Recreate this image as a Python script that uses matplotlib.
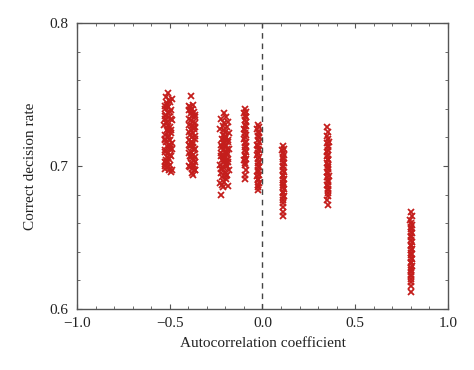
import matplotlib
matplotlib.use("Agg")
import matplotlib.pyplot as plt
from matplotlib.ticker import MultipleLocator

# ---- data ----
c1_x = [-0.512, -0.520, -0.505, -0.498, -0.515, -0.508, -0.525, -0.500, -0.510, -0.518,
        -0.503, -0.495, -0.513, -0.522, -0.507, -0.500, -0.516, -0.509, -0.526, -0.502,
        -0.511, -0.497, -0.519, -0.506, -0.514, -0.501, -0.523, -0.508, -0.496, -0.517,
        -0.504, -0.512, -0.520, -0.499, -0.510, -0.524, -0.506, -0.493, -0.515, -0.508,
        -0.501, -0.519,
        -0.490, -0.528, -0.492, -0.527, -0.489, -0.529, -0.491, -0.526, -0.490, -0.528,
        -0.492, -0.527, -0.489, -0.526, -0.491, -0.528, -0.490, -0.527]
c1_y = [0.751, 0.748, 0.746, 0.745, 0.743, 0.741, 0.740, 0.738, 0.737, 0.736,
        0.734, 0.733, 0.731, 0.730, 0.728, 0.727, 0.725, 0.724, 0.722, 0.721,
        0.720, 0.718, 0.717, 0.715, 0.714, 0.712, 0.711, 0.709, 0.708, 0.706,
        0.705, 0.703, 0.702, 0.701, 0.699, 0.698, 0.697, 0.696, 0.744, 0.726,
        0.713, 0.704,
        0.747, 0.742, 0.739, 0.735, 0.732, 0.729, 0.723, 0.719, 0.716, 0.710,
        0.707, 0.700, 0.697, 0.733, 0.725, 0.718, 0.712, 0.703]

c2_x = [-0.385, -0.375, -0.392, -0.380, -0.370, -0.388, -0.378, -0.366, -0.384, -0.373,
        -0.395, -0.381, -0.369, -0.387, -0.376, -0.391, -0.379, -0.364, -0.383, -0.372,
        -0.389, -0.377, -0.368, -0.386, -0.374, -0.393, -0.380, -0.367, -0.384, -0.371,
        -0.390, -0.378, -0.365, -0.382, -0.375, -0.388, -0.370, -0.379, -0.386, -0.373,
        -0.396, -0.363, -0.394, -0.362, -0.397, -0.364, -0.395, -0.363, -0.396, -0.362,
        -0.394, -0.364, -0.395, -0.363, -0.396, -0.362]
c2_y = [0.749, 0.743, 0.741, 0.740, 0.738, 0.737, 0.735, 0.734, 0.732, 0.731,
        0.729, 0.728, 0.726, 0.725, 0.723, 0.722, 0.720, 0.719, 0.717, 0.716,
        0.714, 0.713, 0.711, 0.710, 0.708, 0.707, 0.705, 0.704, 0.702, 0.701,
        0.699, 0.698, 0.697, 0.695, 0.694, 0.739, 0.727, 0.715, 0.706, 0.700,
        0.742, 0.736, 0.733, 0.730, 0.724, 0.721, 0.718, 0.712, 0.709, 0.703,
        0.700, 0.697, 0.739, 0.727, 0.715, 0.706]

c3_x = [-0.210, -0.198, -0.222, -0.186, -0.205, -0.215, -0.192, -0.228, -0.200, -0.182,
        -0.212, -0.195, -0.220, -0.188, -0.207, -0.226, -0.197, -0.180, -0.214, -0.203,
        -0.190, -0.224, -0.209, -0.185, -0.218, -0.199, -0.230, -0.193, -0.211, -0.178,
        -0.204, -0.221, -0.189, -0.216, -0.196, -0.208, -0.227, -0.184, -0.213, -0.201,
        -0.219, -0.191, -0.206, -0.225, -0.187, -0.210, -0.198, -0.217, -0.194, -0.225,
        -0.202, -0.214, -0.190, -0.223, -0.207, -0.196, -0.218, -0.185, -0.211, -0.200]
c3_y = [0.737, 0.734, 0.733, 0.731, 0.730, 0.728, 0.727, 0.726, 0.724, 0.723,
        0.722, 0.720, 0.719, 0.718, 0.716, 0.715, 0.714, 0.712, 0.711, 0.710,
        0.709, 0.707, 0.706, 0.705, 0.704, 0.702, 0.701, 0.700, 0.699, 0.697,
        0.696, 0.695, 0.694, 0.692, 0.691, 0.689, 0.688, 0.686, 0.685, 0.721,
        0.713, 0.708, 0.703, 0.698, 0.717, 0.725, 0.693, 0.687, 0.710, 0.680,
        0.719, 0.716, 0.712, 0.709, 0.705, 0.701, 0.698, 0.703, 0.707, 0.714]

c4_x = [-0.095, -0.090, -0.098, -0.093, -0.088, -0.096, -0.091, -0.094, -0.089, -0.097,
        -0.092, -0.095, -0.090, -0.093, -0.097, -0.089, -0.094, -0.091, -0.096, -0.092,
        -0.088, -0.095, -0.093, -0.090, -0.097, -0.092, -0.094, -0.091, -0.093, -0.092]
c4_y = [0.740, 0.738, 0.737, 0.735, 0.734, 0.732, 0.731, 0.729, 0.728, 0.726,
        0.725, 0.723, 0.722, 0.720, 0.719, 0.717, 0.716, 0.714, 0.713, 0.711,
        0.710, 0.708, 0.707, 0.705, 0.704, 0.702, 0.701, 0.697, 0.694, 0.691]

c5_x = [-0.025, -0.020, -0.028, -0.023, -0.018, -0.026, -0.021, -0.024, -0.019, -0.027,
        -0.022, -0.025, -0.020, -0.023, -0.027, -0.019, -0.024, -0.021, -0.026, -0.022,
        -0.018, -0.025, -0.023, -0.020, -0.027, -0.022, -0.024, -0.021, -0.023, -0.022,
        -0.025]
c5_y = [0.729, 0.727, 0.726, 0.724, 0.723, 0.721, 0.720, 0.718, 0.717, 0.715,
        0.714, 0.712, 0.711, 0.709, 0.708, 0.706, 0.705, 0.703, 0.702, 0.700,
        0.699, 0.697, 0.696, 0.694, 0.693, 0.691, 0.690, 0.688, 0.687, 0.685,
        0.683]

c6_x = [0.110, 0.114, 0.107, 0.112, 0.116, 0.109, 0.113, 0.111, 0.115, 0.108,
        0.112, 0.110, 0.114, 0.111, 0.108, 0.115, 0.111, 0.113, 0.109, 0.112,
        0.116, 0.110, 0.112, 0.114, 0.108, 0.112, 0.111, 0.111, 0.112, 0.111]
c6_y = [0.714, 0.712, 0.711, 0.709, 0.708, 0.706, 0.705, 0.703, 0.702, 0.700,
        0.699, 0.697, 0.696, 0.694, 0.693, 0.691, 0.690, 0.688, 0.687, 0.685,
        0.684, 0.682, 0.681, 0.679, 0.678, 0.676, 0.674, 0.671, 0.668, 0.665]

c7_x = [0.350, 0.354, 0.347, 0.352, 0.356, 0.349, 0.353, 0.351, 0.355, 0.348,
        0.352, 0.350, 0.354, 0.351, 0.348, 0.355, 0.351, 0.353, 0.349, 0.352,
        0.356, 0.350, 0.352, 0.354, 0.348, 0.352, 0.351, 0.351, 0.352, 0.351,
        0.350, 0.352]
c7_y = [0.727, 0.724, 0.721, 0.719, 0.717, 0.716, 0.714, 0.713, 0.711, 0.710,
        0.708, 0.707, 0.705, 0.704, 0.702, 0.701, 0.699, 0.698, 0.696, 0.695,
        0.693, 0.692, 0.690, 0.689, 0.687, 0.686, 0.684, 0.683, 0.681, 0.679,
        0.676, 0.673]

c8_x = [0.800, 0.804, 0.797, 0.802, 0.806, 0.799, 0.803, 0.801, 0.805, 0.798,
        0.802, 0.800, 0.804, 0.801, 0.798, 0.805, 0.801, 0.803, 0.799, 0.802,
        0.806, 0.800, 0.802, 0.804, 0.798, 0.802, 0.801, 0.801, 0.802, 0.801,
        0.800, 0.802, 0.801]
c8_y = [0.668, 0.665, 0.662, 0.660, 0.659, 0.657, 0.656, 0.654, 0.653, 0.651,
        0.650, 0.648, 0.647, 0.645, 0.644, 0.642, 0.641, 0.639, 0.638, 0.636,
        0.635, 0.633, 0.632, 0.630, 0.629, 0.627, 0.626, 0.624, 0.623, 0.621,
        0.619, 0.616, 0.612]

clusters = [(c1_x, c1_y), (c2_x, c2_y), (c3_x, c3_y), (c4_x, c4_y),
            (c5_x, c5_y), (c6_x, c6_y), (c7_x, c7_y), (c8_x, c8_y)]

x_ticks = [-1.0, -0.5, 0.0, 0.5, 1.0]
x_ticklabels = ["\u22121.0", "\u22120.5", "0.0", "0.5", "1.0"]
y_ticks = [0.6, 0.7, 0.8]
y_ticklabels = ["0.6", "0.7", "0.8"]

# ---- plot ----
plt.rcParams['font.family'] = ['Liberation Serif', 'DejaVu Serif']
fig = plt.figure(figsize=(4.74, 3.70), dpi=100)
ax = fig.add_axes([0.1624, 0.1649, 0.7827, 0.7729])

red = '#c41e1c'
for xs, ys in clusters:
    ax.plot(xs, ys, linestyle='none', marker='x', markersize=4.8,
            markeredgewidth=1.3, color=red)

ax.axvline(0.0, color='#444444', linestyle=(0, (4, 3.5)), linewidth=1.0)

ax.set_xlim(-1.0, 1.0)
ax.set_ylim(0.6, 0.8)
ax.set_xticks(x_ticks)
ax.set_xticklabels(x_ticklabels)
ax.set_yticks(y_ticks)
ax.set_yticklabels(y_ticklabels)
ax.xaxis.set_minor_locator(MultipleLocator(0.1))
ax.yaxis.set_minor_locator(MultipleLocator(0.02))

spine_color = '#555555'
for s in ax.spines.values():
    s.set_color(spine_color)
    s.set_linewidth(1.0)

ax.tick_params(which='both', direction='in', top=True, right=True,
               color=spine_color, labelsize=11, labelcolor='#222222')
ax.tick_params(which='major', length=3.5, width=0.8, pad=6)
ax.tick_params(which='minor', length=2, width=0.6)

ax.set_xlabel("Autocorrelation coefficient", fontsize=11, color='#222222', labelpad=5)
ax.set_ylabel("Correct decision rate", fontsize=11, color='#222222', labelpad=9)

fig.savefig("out.png", dpi=100)
